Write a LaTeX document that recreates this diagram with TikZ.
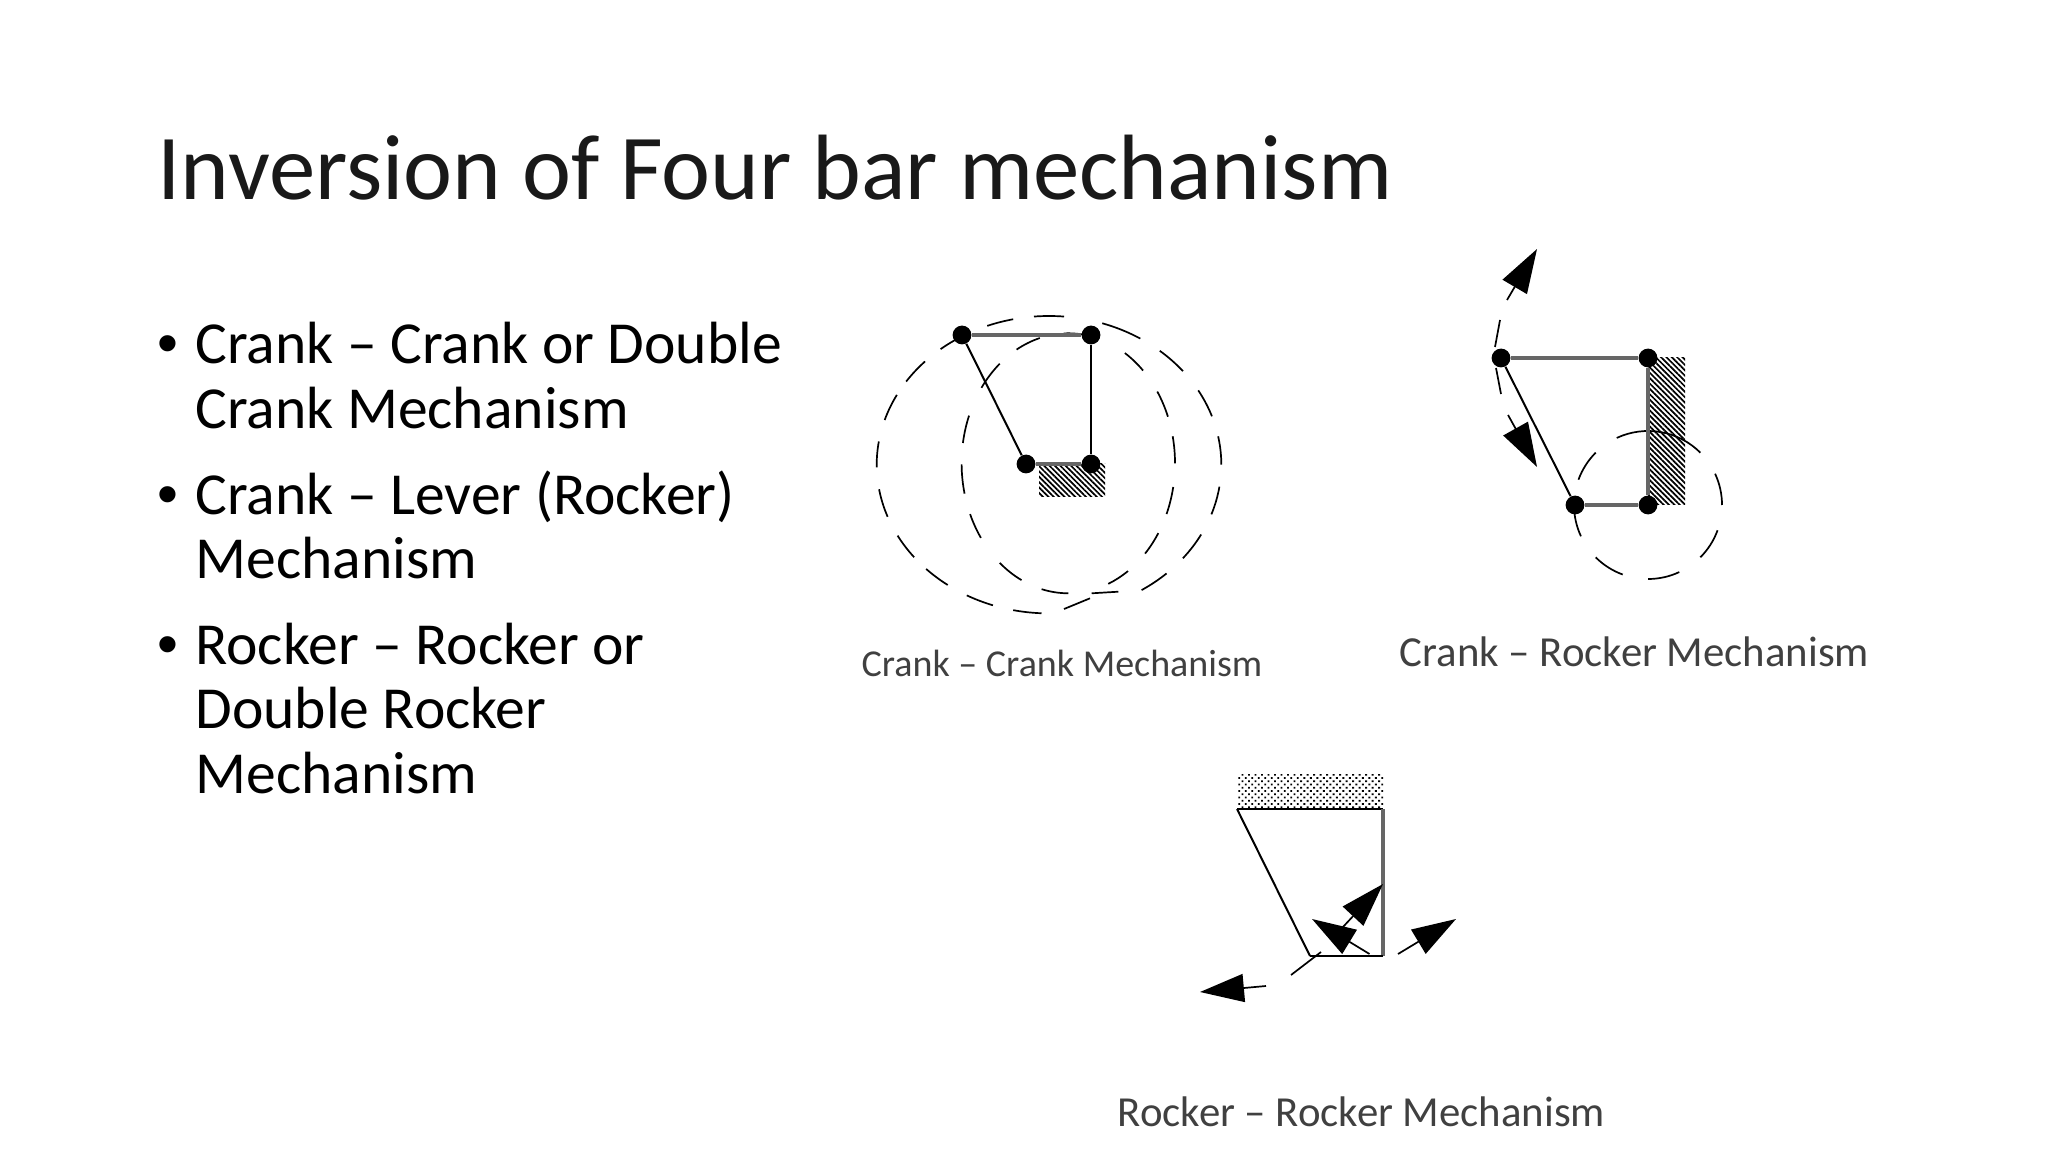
\documentclass[tikz,border=0pt]{standalone}
\usepackage{fontspec}
\setmainfont{Carlito}
\newfontfamily\bulletfont{Liberation Sans}
\usepackage{xcolor}
\usetikzlibrary{arrows.meta, patterns.meta}

\begin{document}
\begin{tikzpicture}[
    x=0.5pt, y=0.5pt,
    titletext/.style={anchor=base west, inner sep=0pt, font=\fontsize{46.4}{50}\selectfont, text=black!90},
    bodytext/.style={anchor=base west, inner sep=0pt, font=\fontsize{29.8}{32}\selectfont},
    bullettext/.style={anchor=base west, inner sep=0pt, font=\bulletfont\fontsize{29.8}{32}\selectfont},
    captiontext/.style={anchor=base, inner sep=0pt, text=black!75},
    pin/.style={circle, fill=black, inner sep=0pt, minimum size=9.4pt},
    bar/.style={line width=1pt, black},
    greybar/.style={line width=1.7pt, black!60},
    swing/.style={line width=0.85pt, black},
    swingtip/.style={line width=0.85pt, black, -{Triangle[length=22pt, width=14pt]}},
    hatched/.style={pattern={Lines[angle=-45, distance=1.9pt, line width=0.85pt]}},
    dotted area/.style={pattern={Dots[angle=45, distance=2.3pt, radius=0.65pt]}}
]
\useasboundingbox (0,0) rectangle (2048,1152);

% Title and list
\node[titletext] (title) at (157,952) {Inversion of Four bar mechanism};

\node[bullettext] (bul1) at (157,788) {•};
\node[bodytext] (line1) at (195,788) {Crank – Crank or Double};
\node[bodytext] (line2) at (195,723.5) {Crank Mechanism};
\node[bullettext] (bul2) at (157,637.5) {•};
\node[bodytext] (line3) at (195,637.5) {Crank – Lever (Rocker)};
\node[bodytext] (line4) at (195,573) {Mechanism};
\node[bullettext] (bul3) at (157,487.5) {•};
\node[bodytext] (line5) at (195,487.5) {Rocker – Rocker or};
\node[bodytext] (line6) at (195,424) {Double Rocker};
\node[bodytext] (line7) at (195,359) {Mechanism};

% Crank - crank
\fill[hatched] (1039,655) rectangle (1105,688);
\foreach \from/\to in {0/11, 19/30, 39/50, 58/72, 85/95, 102/111, 118/129, 136/146, 152/162.5, 171/181,
    189.5/200.5, 208.5/218.5, 224.5/234, 241.5/251, 258/267.5, 302.5/313, 321/332, 340.5/351.5}
    \draw[swing] ([shift={(\from:172.3 and 148.7)}]1049,687.3) arc [start angle=\from, end angle=\to, x radius=172.3, y radius=148.7];
\foreach \from/\to in {0/12, 21/33.5, 45.5/58, 82/92.5, 105.5/119, 130/144.5, 158.5/171, 180.5/193.5,
    203/215, 230/244, 255.5/270, 292/304, 316/327.5, 337/349.5}
    \draw[swing] ([shift={(\from:106.7 and 130)}]1068.3,688.7) arc [start angle=\from, end angle=\to, x radius=106.7, y radius=130];
\coordinate (ccP1) at (1064,543);
\coordinate (ccP2) at (1090,553.7);
\coordinate (ccP3) at (1091.7,558.7);
\coordinate (ccP4) at (1118.3,560.3);
\draw[swing] (ccP1) -- (ccP2);
\draw[swing] (ccP3) -- (ccP4);

\node[pin] (ccA) at (962,817) {};
\node[pin] (ccB) at (1091,817) {};
\node[pin] (ccC) at (1026,688) {};
\node[pin] (ccD) at (1091,688) {};

\draw[greybar] (ccA) -- (ccB);
\draw[bar] (ccA) -- (ccC);
\draw[bar] (ccB) -- (ccD);
\draw[greybar] (ccC) -- (ccD);

\node[captiontext, font=\fontsize{19}{22}\selectfont] (cccap) at (1062,476) {Crank – Crank Mechanism};

% Crank - rocker
\fill[hatched] (1648,647) rectangle (1685,794);
\foreach \from/\to in {0/25, 45/115, 135/160, 180/205, 225/250, 270/295, 315/340}
    \draw[swing] ([shift={(\from:74)}]1648,647) arc [start angle=\from, end angle=\to, radius=74];

\node[pin] (crA) at (1501,794) {};
\node[pin] (crB) at (1648,794) {};
\node[pin] (crC) at (1575,647) {};
\node[pin] (crD) at (1648,647) {};

\draw[greybar] (crA) -- (crB);
\draw[bar] (crA) -- (crC);
\draw[greybar] (crB) -- (crD);
\draw[greybar] (crC) -- (crD);

\coordinate (crU1) at (1500,832);
\coordinate (crU2) at (1495,805);
\coordinate (crL1) at (1496,784);
\coordinate (crL2) at (1501,758);
\coordinate (crS1) at (1507,852);
\coordinate (crT1) at (1537,903);
\coordinate (crS2) at (1508,737);
\coordinate (crT2) at (1537,685);

\draw[swing] (crU1) -- (crU2);
\draw[swing] (crL1) -- (crL2);
\draw[swingtip] (crS1) -- (crT1);
\draw[swingtip] (crS2) -- (crT2);

\node[captiontext, font=\fontsize{21.4}{24}\selectfont] (crcap) at (1634.5,486) {Crank – Rocker Mechanism};

% Rocker - rocker
\fill[dotted area] (1237,345) rectangle (1383,378);

\coordinate (rrA) at (1237,343);
\coordinate (rrB) at (1383,343);
\coordinate (rrC) at (1383,196);
\coordinate (rrD) at (1310,196);

\draw[bar] (rrA) -- (rrB);
\draw[greybar] (rrB) -- (rrC);
\draw[bar] (rrC) -- (rrD);
\draw[bar] (rrA) -- (rrD);

\coordinate (rrS1) at (1342,224);
\coordinate (rrT1) at (1383,268);
\coordinate (rrS2) at (1369.5,198);
\coordinate (rrT2) at (1312,233);
\coordinate (rrS3) at (1398,198);
\coordinate (rrT3) at (1456,233);
\coordinate (rrS4) at (1266,166);
\coordinate (rrT4) at (1200,160);
\coordinate (rrS5) at (1291,177);
\coordinate (rrT5) at (1321,200);

\draw[swingtip] (rrS1) -- (rrT1);
\draw[swingtip] (rrS2) -- (rrT2);
\draw[swingtip] (rrS3) -- (rrT3);
\draw[swingtip] (rrS4) -- (rrT4);
\draw[swing] (rrS5) -- (rrT5);

\node[captiontext, font=\fontsize{21.4}{24}\selectfont] (rrcap) at (1361.5,26) {Rocker – Rocker Mechanism};

\end{tikzpicture}
\end{document}
